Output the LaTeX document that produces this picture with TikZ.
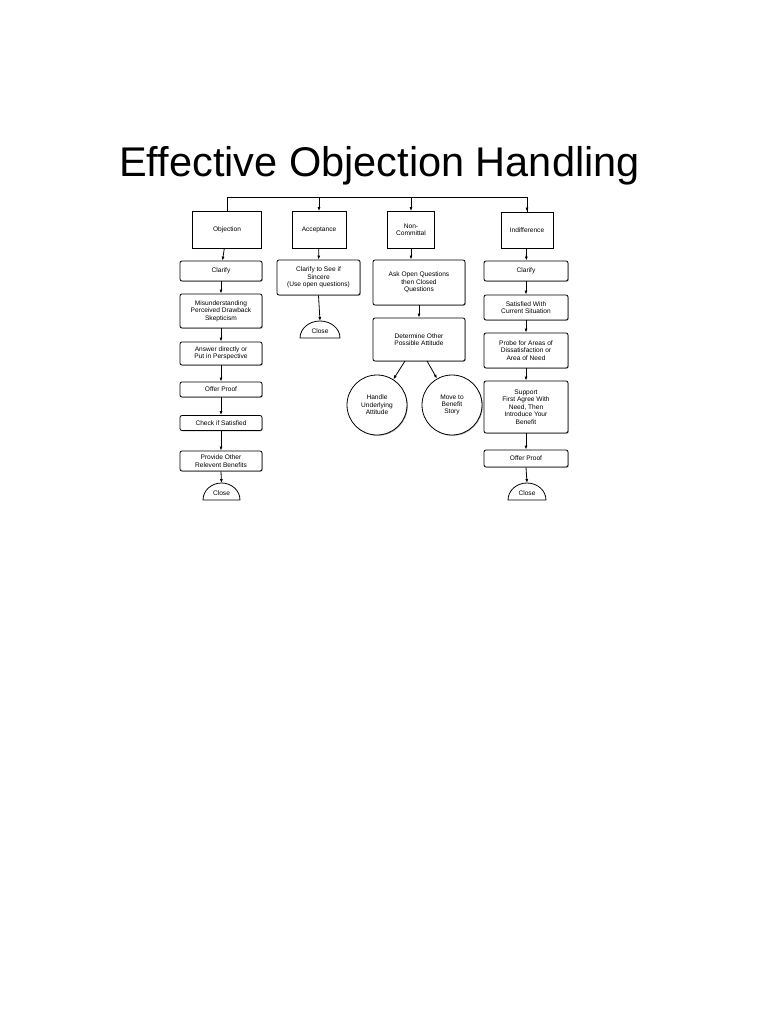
\documentclass[tikz,border=0pt]{standalone}
\usepackage{fontspec}
\setmainfont{Liberation Sans}
\usetikzlibrary{shadows,arrows.meta}
\begin{document}
\begin{tikzpicture}[x=1pt,y=-1pt,
  every node/.style={font=\fontsize{6.6}{7.4}\selectfont, align=center, inner sep=0pt},
  bx/.style={draw, thick, rounded corners=2pt, fill=white, drop shadow={shadow xshift=0.8pt,shadow yshift=-0.8pt,opacity=0.6}},
  hd/.style={draw, thick, fill=white, drop shadow={shadow xshift=0.8pt,shadow yshift=-0.8pt,opacity=0.6}, minimum width=#1},
  cl/.style={draw, thick, fill=white, circle, minimum size=60pt, drop shadow={shadow xshift=0.8pt,shadow yshift=-0.8pt,opacity=0.6}},
  ar/.style={-{Latex[length=4pt,width=3pt]}, thick}]
\useasboundingbox (0,0) rectangle (768,1024);
\fill[white] (0,0) rectangle (768,1024);
\node[font=\fontsize{41.5}{44}\selectfont, anchor=base west] (title) at (119,177) {Effective Objection Handling};
% headers
\node[hd=69pt, minimum height=37pt] (obj) at (227,230) {Objection};
\node[hd=54pt, minimum height=37pt] (acc) at (319,230) {Acceptance};
\node[hd=47pt, minimum height=37pt] (non) at (411,230) {Non-\\Committal};
\node[hd=52pt, minimum height=36pt] (ind) at (527,230) {Indifference};
\coordinate (tl) at (227,197); \coordinate (tr) at (527,197);
\draw[thick] (obj.north) -- (tl) -- (tr) -- (ind.north);
\draw[ar] (tr) -- (ind.north);
\draw[ar] (319,197) -- (acc.north);
\draw[ar] (411,197) -- (non.north);
% objection column
\node[bx, minimum width=82pt, minimum height=20pt] (o1) at (221,271) {Clarify};
\node[bx, minimum width=82pt, minimum height=34pt] (o2) at (221,311) {Misunderstanding\\Perceived Drawback\\Skepticism};
\node[bx, minimum width=82pt, minimum height=23pt] (o3) at (221,353.5) {Answer directly or\\Put in Perspective};
\node[bx, minimum width=82pt, minimum height=15pt] (o4) at (221,389.5) {Offer Proof};
\node[bx, minimum width=82pt, minimum height=15pt] (o5) at (221,423) {Check if Satisfied};
\node[bx, minimum width=82pt, minimum height=20pt] (o6) at (221,461) {Provide Other\\Relevent Benefits};
\draw[thick, fill=white] (203,500) arc (180:360:18.5 and 17) -- cycle;
\node (o7) at (221.5,493) {Close};
\draw[ar] (obj) -- (o1); \draw[ar] (o1) -- (o2); \draw[ar] (o2) -- (o3);
\draw[ar] (o3) -- (o4); \draw[ar] (o4) -- (o5); \draw[ar] (o5) -- (o6);
\draw[ar] (o6.south) -- (221.5,483);
% acceptance
\node[bx, minimum width=83pt, minimum height=35pt] (a1) at (318.5,277.5) {Clarify to See if\\Sincere\\(Use open questions)};
\draw[thick, fill=white] (300,338) arc (180:360:20 and 17) -- cycle;
\node (a2) at (320,331) {Close};
\draw[ar] (acc) -- (a1); \draw[ar] (a1.south) -- (320,321);
% non-committal
\node[bx, minimum width=92pt, minimum height=45pt] (n1) at (419,282.5) {Ask Open Questions\\then Closed\\Questions};
\node[bx, minimum width=92pt, minimum height=43pt] (n2) at (419,339.5) {Determine Other\\Possible Attitude};
\node[cl] (n3) at (377,405) {Handle\\Underlying\\Attitude};
\node[cl] (n4) at (452,405) {Move to\\Benefit\\Story};
\draw[ar] (non.south) -- (n1.north -| non.south);
\draw[ar] (n1) -- (n2);
\draw[ar] (405,361) -- (n3);
\draw[ar] (427,361) -- (n4);
% indifference
\node[bx, minimum width=84pt, minimum height=20pt] (i1) at (526,271) {Clarify};
\node[bx, minimum width=84pt, minimum height=25pt] (i2) at (526,307.5) {Satisfied With\\Current Situation};
\node[bx, minimum width=84pt, minimum height=35pt] (i3) at (526,350.5) {Probe for Areas of\\Dissatisfaction or\\Area of Need};
\node[bx, minimum width=84pt, minimum height=52pt] (i4) at (526,407) {Support\\First Agree With\\Need, Then\\Introduce Your\\Benefit};
\node[bx, minimum width=84pt, minimum height=17pt] (i5) at (526,458.5) {Offer Proof};
\draw[thick, fill=white] (508,500) arc (180:360:19 and 17) -- cycle;
\node (i6) at (527,493) {Close};
\draw[ar] (ind) -- (i1); \draw[ar] (i1) -- (i2); \draw[ar] (i2) -- (i3);
\draw[ar] (i3) -- (i4); \draw[ar] (i4) -- (i5); \draw[ar] (i5.south) -- (527,483);
\end{tikzpicture}
\end{document}
